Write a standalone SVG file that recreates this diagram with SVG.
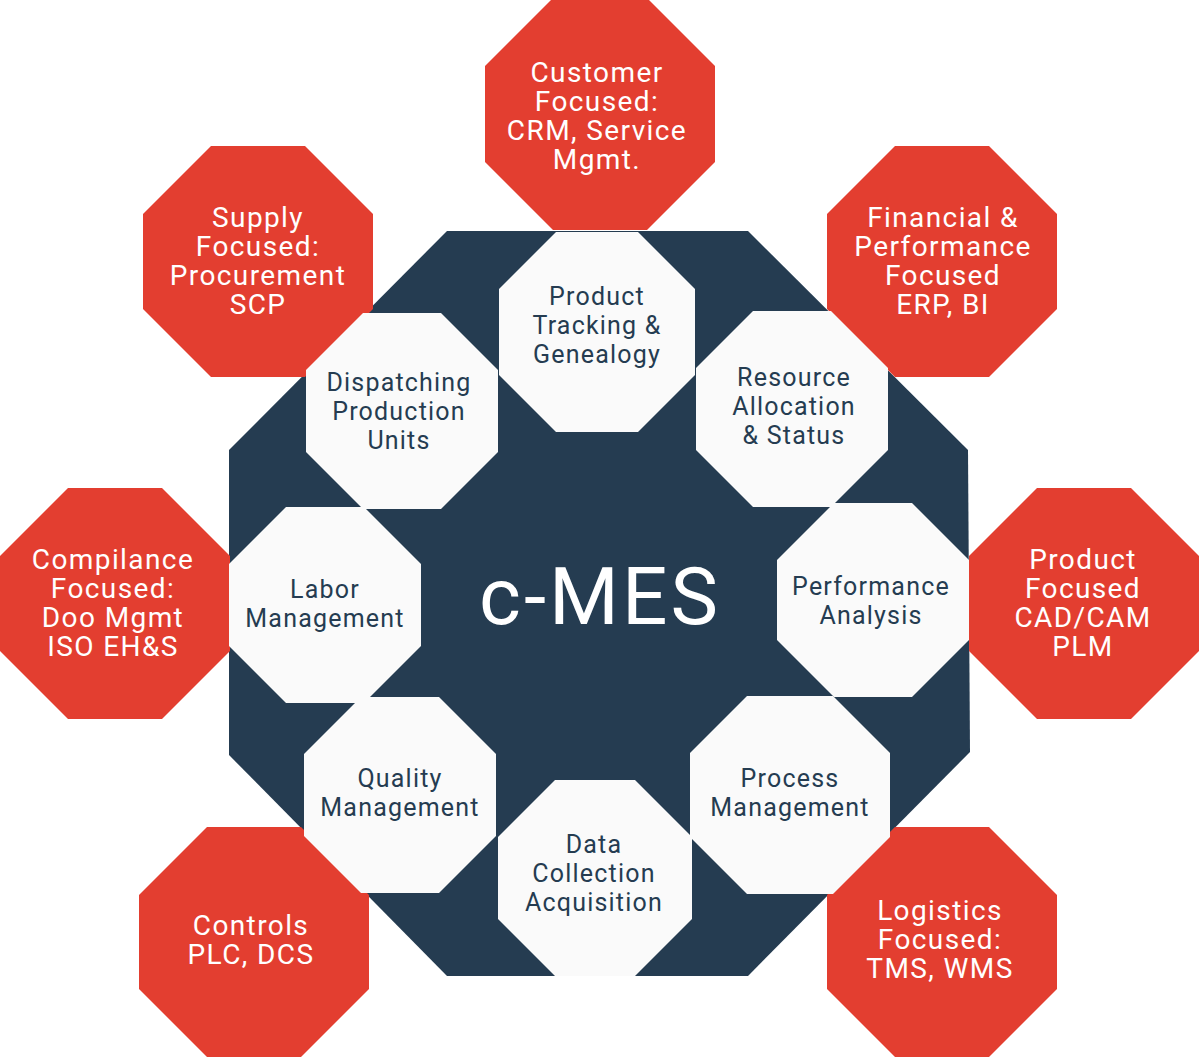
<svg xmlns="http://www.w3.org/2000/svg" width="1200" height="1058" viewBox="0 0 1200 1058">
<style>
.r{fill:#e33e30}.w{fill:#fafafa}.d{fill:#253c51}
text{font-family:Roboto,"Liberation Sans",sans-serif;text-anchor:middle;dominant-baseline:central}
.rt{fill:#fff;font-size:28px;letter-spacing:1.4px}.wt{fill:#253c51;font-size:25px;letter-spacing:1.2px}
</style>
<rect width="1200" height="1058" fill="#fff"/>
<g id="core"><polygon class="d" points="447,231 748,231 968,450 970,752 748,976 447,976 229,755 229,450"/>
<text x="600" y="597" fill="#fff" style="font-size:80px;letter-spacing:3px">c-MES</text></g>
<g id="customer"><polygon class="r" points="553,-2 647,-2 715,66 715,162 647,230 553,230 485,162 485,66"/>
<text class="rt" x="597"><tspan x="597" y="72">Customer</tspan><tspan x="597" y="101">Focused:</tspan><tspan x="597" y="130">CRM, Service</tspan><tspan x="597" y="159">Mgmt.</tspan></text></g>
<g id="supply"><polygon class="r" points="211,146 305,146 373,214 373,309 305,377 211,377 143,309 143,214"/>
<text class="rt"><tspan x="258" y="217">Supply</tspan><tspan x="258" y="246">Focused:</tspan><tspan x="258" y="275">Procurement</tspan><tspan x="258" y="304">SCP</tspan></text></g>
<g id="financial"><polygon class="r" points="895,146 989,146 1057,214 1057,309 989,377 895,377 827,309 827,214"/>
<text class="rt"><tspan x="943" y="217">Financial &amp;</tspan><tspan x="943" y="246">Performance</tspan><tspan x="943" y="275">Focused</tspan><tspan x="943" y="304">ERP, BI</tspan></text></g>
<g id="compliance"><polygon class="r" points="68,488 162,488 230,556 230,651 162,719 68,719 0,651 0,556"/>
<text class="rt"><tspan x="113" y="559">Compilance</tspan><tspan x="113" y="588">Focused:</tspan><tspan x="113" y="617">Doo Mgmt</tspan><tspan x="113" y="646">ISO EH&amp;S</tspan></text></g>
<g id="productf"><polygon class="r" points="1037,488 1131,488 1199,556 1199,651 1131,719 1037,719 969,651 969,556"/>
<text class="rt"><tspan x="1083" y="559">Product</tspan><tspan x="1083" y="588">Focused</tspan><tspan x="1083" y="617">CAD/CAM</tspan><tspan x="1083" y="646">PLM</tspan></text></g>
<g id="controls"><polygon class="r" points="207,827 301,827 369,895 369,989 301,1057 207,1057 139,989 139,895"/>
<text class="rt"><tspan x="251" y="925">Controls</tspan><tspan x="251" y="954">PLC, DCS</tspan></text></g>
<g id="logistics"><polygon class="r" points="895,827 989,827 1057,895 1057,989 989,1057 895,1057 827,989 827,895"/>
<text class="rt"><tspan x="940" y="910">Logistics</tspan><tspan x="940" y="939">Focused:</tspan><tspan x="940" y="968">TMS, WMS</tspan></text></g>
<g id="tracking"><polygon class="w" points="556,232 638,232 695,289 695,375 638,432 556,432 499,375 499,289"/>
<text class="wt"><tspan x="597" y="296">Product</tspan><tspan x="597" y="325">Tracking &amp;</tspan><tspan x="597" y="354">Genealogy</tspan></text></g>
<g id="resource"><polygon class="w" points="753,311 831,311 888,368 888,450 831,507 753,507 696,450 696,368"/>
<text class="wt"><tspan x="794" y="377">Resource</tspan><tspan x="794" y="406">Allocation</tspan><tspan x="794" y="435">&amp; Status</tspan></text></g>
<g id="performance"><polygon class="w" points="834,503 912,503 969,560 969,640 912,697 834,697 777,640 777,560"/>
<text class="wt"><tspan x="871" y="586">Performance</tspan><tspan x="871" y="615">Analysis</tspan></text></g>
<g id="process"><polygon class="w" points="747,696 833,696 890,753 890,837 833,894 747,894 690,837 690,753"/>
<text class="wt"><tspan x="790" y="778">Process</tspan><tspan x="790" y="807">Management</tspan></text></g>
<g id="data"><polygon class="w" points="555,780 635,780 692,837 692,919 635,976 555,976 498,919 498,837"/>
<text class="wt"><tspan x="594" y="844">Data</tspan><tspan x="594" y="873">Collection</tspan><tspan x="594" y="902">Acquisition</tspan></text></g>
<g id="quality"><polygon class="w" points="361,697 439,697 496,754 496,836 439,893 361,893 304,836 304,754"/>
<text class="wt"><tspan x="400" y="778">Quality</tspan><tspan x="400" y="807">Management</tspan></text></g>
<g id="labor"><polygon class="w" points="286,507 364,507 421,564 421,646 364,703 286,703 229,646 229,564"/>
<text class="wt"><tspan x="325" y="589">Labor</tspan><tspan x="325" y="618">Management</tspan></text></g>
<g id="dispatching"><polygon class="w" points="363,313 441,313 498,370 498,452 441,509 363,509 306,452 306,370"/>
<text class="wt"><tspan x="399" y="382">Dispatching</tspan><tspan x="399" y="411">Production</tspan><tspan x="399" y="440">Units</tspan></text></g>
<g id="connectors"/>
</svg>
